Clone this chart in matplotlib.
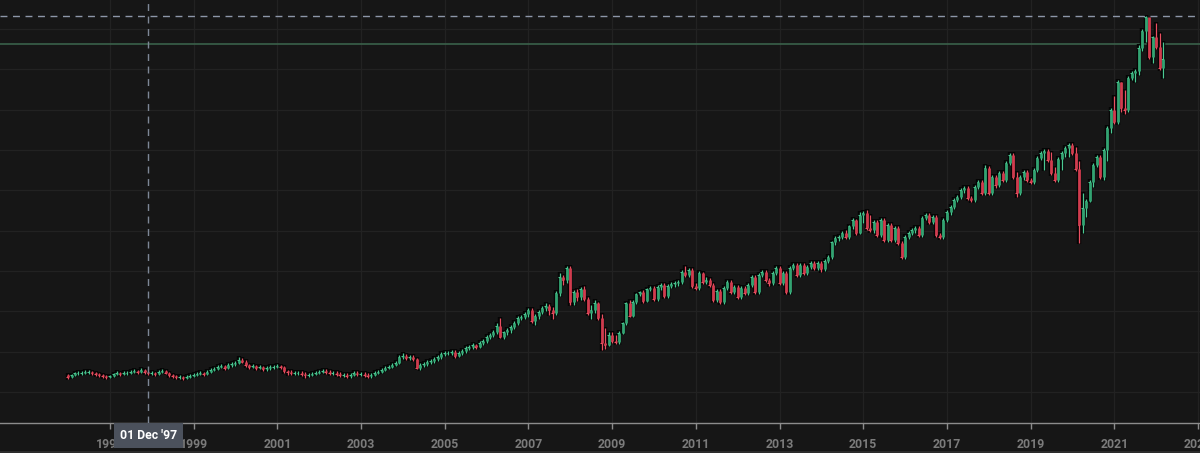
import numpy as np
import pandas as pd
import matplotlib
matplotlib.use('Agg')
import matplotlib.pyplot as plt
import matplotlib.dates as mdates
from matplotlib.lines import Line2D

# monthly bars, Jan 1996 .. Mar 2022 (price in chart units, no y labels shown)
close_by_year = {
    1996: [46, 48, 50, 50, 50, 51, 51, 50, 49, 48, 47, 46],
    1997: [47, 49, 50, 49, 50, 50, 51, 52, 51, 53, 51, 50],
    1998: [50, 49, 51, 52, 50, 48, 47, 46, 46, 45, 46, 47],
    1999: [48, 49, 50, 49, 51, 53, 54, 56, 57, 55, 58, 59],
    2000: [60, 63, 61, 58, 56, 57, 55, 56, 54, 55, 56, 56],
    2001: [57, 56, 52, 51, 50, 50, 50, 49, 48, 48, 49, 50],
    2002: [51, 52, 51, 50, 50, 49, 48, 48, 47, 48, 50, 49],
    2003: [49, 48, 47, 48, 50, 51, 53, 55, 56, 58, 60, 66],
    2004: [67, 65, 66, 64, 55, 58, 59, 61, 62, 64, 66, 69],
    2005: [70, 70, 71, 67, 70, 72, 75, 76, 78, 76, 80, 82],
    2006: [86, 88, 91, 97, 86, 91, 93, 96, 100, 105, 106, 109],
    2007: [113, 102, 107, 111, 115, 117, 113, 110, 130, 146, 143, 155],
    2008: [121, 131, 126, 134, 124, 110, 113, 120, 105, 80, 78, 88],
    2009: [82, 81, 90, 100, 120, 107, 121, 129, 131, 122, 134, 135],
    2010: [124, 136, 138, 127, 137, 139, 140, 141, 151, 148, 153, 137],
    2011: [135, 150, 141, 143, 138, 123, 132, 121, 135, 141, 131, 136],
    2012: [126, 135, 130, 138, 146, 131, 148, 151, 143, 140, 150, 155],
    2013: [140, 150, 131, 155, 158, 148, 158, 150, 156, 160, 155, 160],
    2014: [154, 162, 166, 181, 185, 186, 190, 186, 197, 203, 190, 208],
    2015: [210, 195, 193, 201, 188, 203, 183, 198, 183, 195, 180, 166],
    2016: [186, 190, 193, 195, 188, 205, 208, 201, 206, 188, 186, 203],
    2017: [211, 216, 223, 226, 233, 235, 225, 223, 236, 241, 230, 255],
    2018: [230, 246, 238, 250, 243, 260, 268, 246, 230, 246, 251, 243],
    2019: [241, 253, 265, 270, 272, 263, 250, 243, 264, 270, 275, 278],
    2020: [270, 254, 198, 215, 222, 241, 258, 266, 246, 273, 295, 313],
    2021: [301, 341, 315, 313, 345, 350, 352, 375, 392, 406, 366, 386],
    2022: [376, 355, 364],
}
high_by_year = {
    1996: [49, 49, 51, 52, 52, 53, 53, 52, 51, 50, 49, 48],
    1997: [48, 50, 52, 51, 52, 52, 53, 54, 53, 55, 54, 52],
    1998: [52, 51, 53, 54, 53, 51, 49, 48, 48, 47, 48, 49],
    1999: [50, 51, 52, 51, 53, 55, 56, 58, 59, 58, 60, 61],
    2000: [62, 66, 65, 63, 59, 59, 58, 58, 57, 57, 58, 58],
    2001: [59, 58, 57, 53, 53, 52, 52, 52, 51, 50, 51, 52],
    2002: [53, 54, 54, 53, 52, 52, 51, 50, 50, 50, 52, 52],
    2003: [51, 51, 50, 50, 52, 53, 55, 57, 58, 60, 62, 68],
    2004: [70, 69, 68, 68, 65, 60, 61, 63, 64, 66, 68, 71],
    2005: [72, 72, 73, 73, 72, 74, 77, 78, 80, 79, 82, 84],
    2006: [88, 90, 93, 100, 105, 92, 95, 98, 102, 107, 108, 111],
    2007: [115, 115, 109, 113, 117, 120, 119, 116, 132, 150, 148, 157],
    2008: [157, 133, 134, 136, 137, 126, 118, 123, 121, 109, 95, 91],
    2009: [91, 88, 92, 101, 121, 123, 123, 130, 132, 133, 135, 137],
    2010: [137, 138, 140, 140, 139, 141, 142, 143, 153, 157, 155, 155],
    2011: [140, 152, 151, 146, 145, 140, 134, 134, 137, 143, 143, 138],
    2012: [138, 137, 137, 140, 148, 148, 150, 153, 153, 145, 152, 157],
    2013: [157, 152, 152, 157, 160, 160, 160, 160, 158, 162, 162, 162],
    2014: [162, 164, 168, 182, 187, 188, 192, 193, 198, 205, 204, 211],
    2015: [212, 213, 208, 203, 203, 205, 205, 200, 200, 197, 197, 182],
    2016: [188, 192, 195, 197, 197, 207, 210, 210, 208, 208, 190, 205],
    2017: [213, 218, 225, 228, 235, 237, 237, 227, 238, 243, 243, 258],
    2018: [257, 248, 248, 252, 252, 262, 270, 270, 251, 248, 253, 253],
    2019: [245, 255, 267, 272, 274, 274, 271, 256, 266, 272, 277, 280],
    2020: [280, 276, 262, 230, 224, 243, 260, 268, 268, 275, 297, 315],
    2021: [327, 343, 341, 333, 347, 352, 354, 378, 394, 407, 398, 387],
    2022: [400, 390, 381],
}
low_by_year = {
    1996: [44, 45, 47, 48, 48, 49, 49, 48, 47, 46, 45, 44],
    1997: [45, 46, 48, 47, 48, 48, 49, 50, 49, 50, 49, 48],
    1998: [48, 47, 48, 50, 49, 46, 45, 44, 44, 43, 44, 45],
    1999: [46, 47, 48, 47, 48, 50, 52, 53, 55, 53, 54, 56],
    2000: [57, 59, 60, 56, 54, 55, 53, 54, 52, 52, 53, 54],
    2001: [55, 54, 50, 48, 48, 48, 48, 47, 45, 46, 47, 48],
    2002: [49, 50, 49, 48, 48, 47, 46, 46, 45, 45, 47, 47],
    2003: [47, 46, 45, 45, 47, 49, 50, 52, 54, 55, 57, 59],
    2004: [64, 63, 63, 62, 54, 53, 56, 57, 59, 60, 62, 64],
    2005: [67, 68, 68, 65, 66, 68, 70, 73, 74, 74, 75, 78],
    2006: [80, 84, 86, 89, 85, 84, 88, 90, 94, 98, 103, 104],
    2007: [106, 100, 98, 104, 109, 112, 108, 104, 108, 127, 138, 140],
    2008: [118, 118, 122, 123, 122, 108, 104, 110, 103, 73, 74, 77],
    2009: [80, 79, 79, 89, 98, 106, 106, 119, 127, 120, 121, 132],
    2010: [122, 122, 133, 125, 125, 135, 136, 137, 139, 146, 146, 135],
    2011: [133, 133, 139, 139, 136, 121, 121, 119, 119, 133, 129, 129],
    2012: [124, 124, 128, 128, 136, 129, 129, 146, 141, 137, 138, 148],
    2013: [138, 138, 129, 129, 153, 146, 146, 148, 148, 154, 153, 153],
    2014: [151, 152, 160, 164, 178, 182, 184, 184, 184, 194, 188, 189],
    2015: [200, 193, 191, 190, 186, 186, 181, 181, 181, 181, 178, 164],
    2016: [164, 184, 188, 190, 186, 186, 203, 199, 199, 186, 184, 184],
    2017: [201, 208, 214, 221, 224, 230, 223, 221, 221, 234, 228, 228],
    2018: [228, 228, 235, 236, 241, 241, 258, 244, 226, 228, 243, 241],
    2019: [239, 239, 251, 263, 253, 261, 248, 241, 241, 253, 266, 266],
    2020: [268, 252, 180, 190, 206, 221, 236, 256, 244, 243, 262, 290],
    2021: [299, 299, 311, 309, 311, 343, 341, 348, 372, 381, 364, 360],
    2022: [374, 353, 345],
}
first_open = 48
year_labels = ['1997', '1999', '2001', '2003', '2005', '2007', '2009', '2011',
               '2013', '2015', '2017', '2019', '2021', '2023']
crosshair_date = '1997-12-01'
crosshair_label = "01 Dec '97"
top_line_value = 407
last_line_value = 379

close = np.array(sum(close_by_year.values(), []), dtype=float)
high = np.array(sum(high_by_year.values(), []), dtype=float)
low = np.array(sum(low_by_year.values(), []), dtype=float)
open_ = np.r_[first_open, close[:-1]]

months = pd.date_range('1996-01-01', periods=len(close), freq='MS')
x = mdates.date2num(months)
up = close >= open_

plt.rcParams['font.family'] = ['Roboto', 'DejaVu Sans']

BG = '#161616'
GREEN_WICK = '#4cc993'
GREEN_BODY = '#33a372'
RED_WICK = '#ea5062'
RED_BODY = '#d03c4e'

fig = plt.figure(figsize=(12, 4.53), dpi=100, facecolor=BG)
ax = fig.add_axes([0, 30 / 453, 1, 423 / 453], facecolor=BG)

# x range: 1997 tick sits at 110px, 41.85px per year
t0 = mdates.date2num(pd.Timestamp('1997-01-01'))
day_px = 41.85 / 365.25
ax.set_xlim(t0 - 110 / day_px, t0 + 1090 / day_px)
ax.set_ylim(0, 423)

# bars: dark halo, thin wick, thicker body
body_lo = np.minimum(open_, close)
body_hi = np.maximum(open_, close)
ax.vlines(x, low - 1, high + 1, color='#050505', lw=3.2, zorder=2)
for mask, wc, bc in [(up, GREEN_WICK, GREEN_BODY), (~up, RED_WICK, RED_BODY)]:
    ax.vlines(x[mask], low[mask], high[mask], color=wc, lw=0.9, zorder=3)
    ax.vlines(x[mask], body_lo[mask], body_hi[mask] + 0.4, color=bc, lw=2.0, zorder=4)
    ax.hlines(close[mask], x[mask] - 1.6 / day_px, x[mask], color=wc, lw=0.8, zorder=4)

# grid
tick_dates = [mdates.date2num(pd.Timestamp(y + '-01-01')) for y in year_labels]
ax.set_xticks(tick_dates)
ax.set_xticklabels(year_labels)
ax.set_yticks(np.linspace(31, 394, 10))
ax.grid(True, color='#222222', lw=0.9)
ax.set_axisbelow(True)

for s in ['top', 'left', 'right']:
    ax.spines[s].set_visible(False)
ax.spines['bottom'].set_color('#8c8c8c')
ax.spines['bottom'].set_linewidth(1.0)
ax.tick_params(axis='x', colors='#8c8c8c', length=4, width=1, pad=7,
               labelcolor='#7b7b7b', labelsize=8.8)
for lab in ax.get_xticklabels():
    lab.set_fontweight('bold')
ax.tick_params(axis='y', left=False, labelleft=False)

# reference lines
ax.axhline(top_line_value, color='#8d96a8', lw=1.0, ls=(0, (5, 4)), zorder=5)
ax.axhline(last_line_value, color='#3a614a', lw=1.2, zorder=1.5)
xc = mdates.date2num(pd.Timestamp(crosshair_date))
ax.axvline(xc, color='#7d8796', lw=1.0, ls=(0, (5, 4)), zorder=5)

fig.text((xc - ax.get_xlim()[0]) * day_px / 1200, (453 - 435.5) / 453, crosshair_label,
         ha='center', va='center', color='white', fontsize=8.8, fontweight='bold',
         bbox=dict(boxstyle='square,pad=0.5', fc='#4b515c', ec='none'), zorder=10)

fig.add_artist(Line2D([0, 1], [1.5 / 453, 1.5 / 453], color='#2c2c2c', lw=1.5))

plt.savefig('out.png', dpi=100, facecolor=BG)
